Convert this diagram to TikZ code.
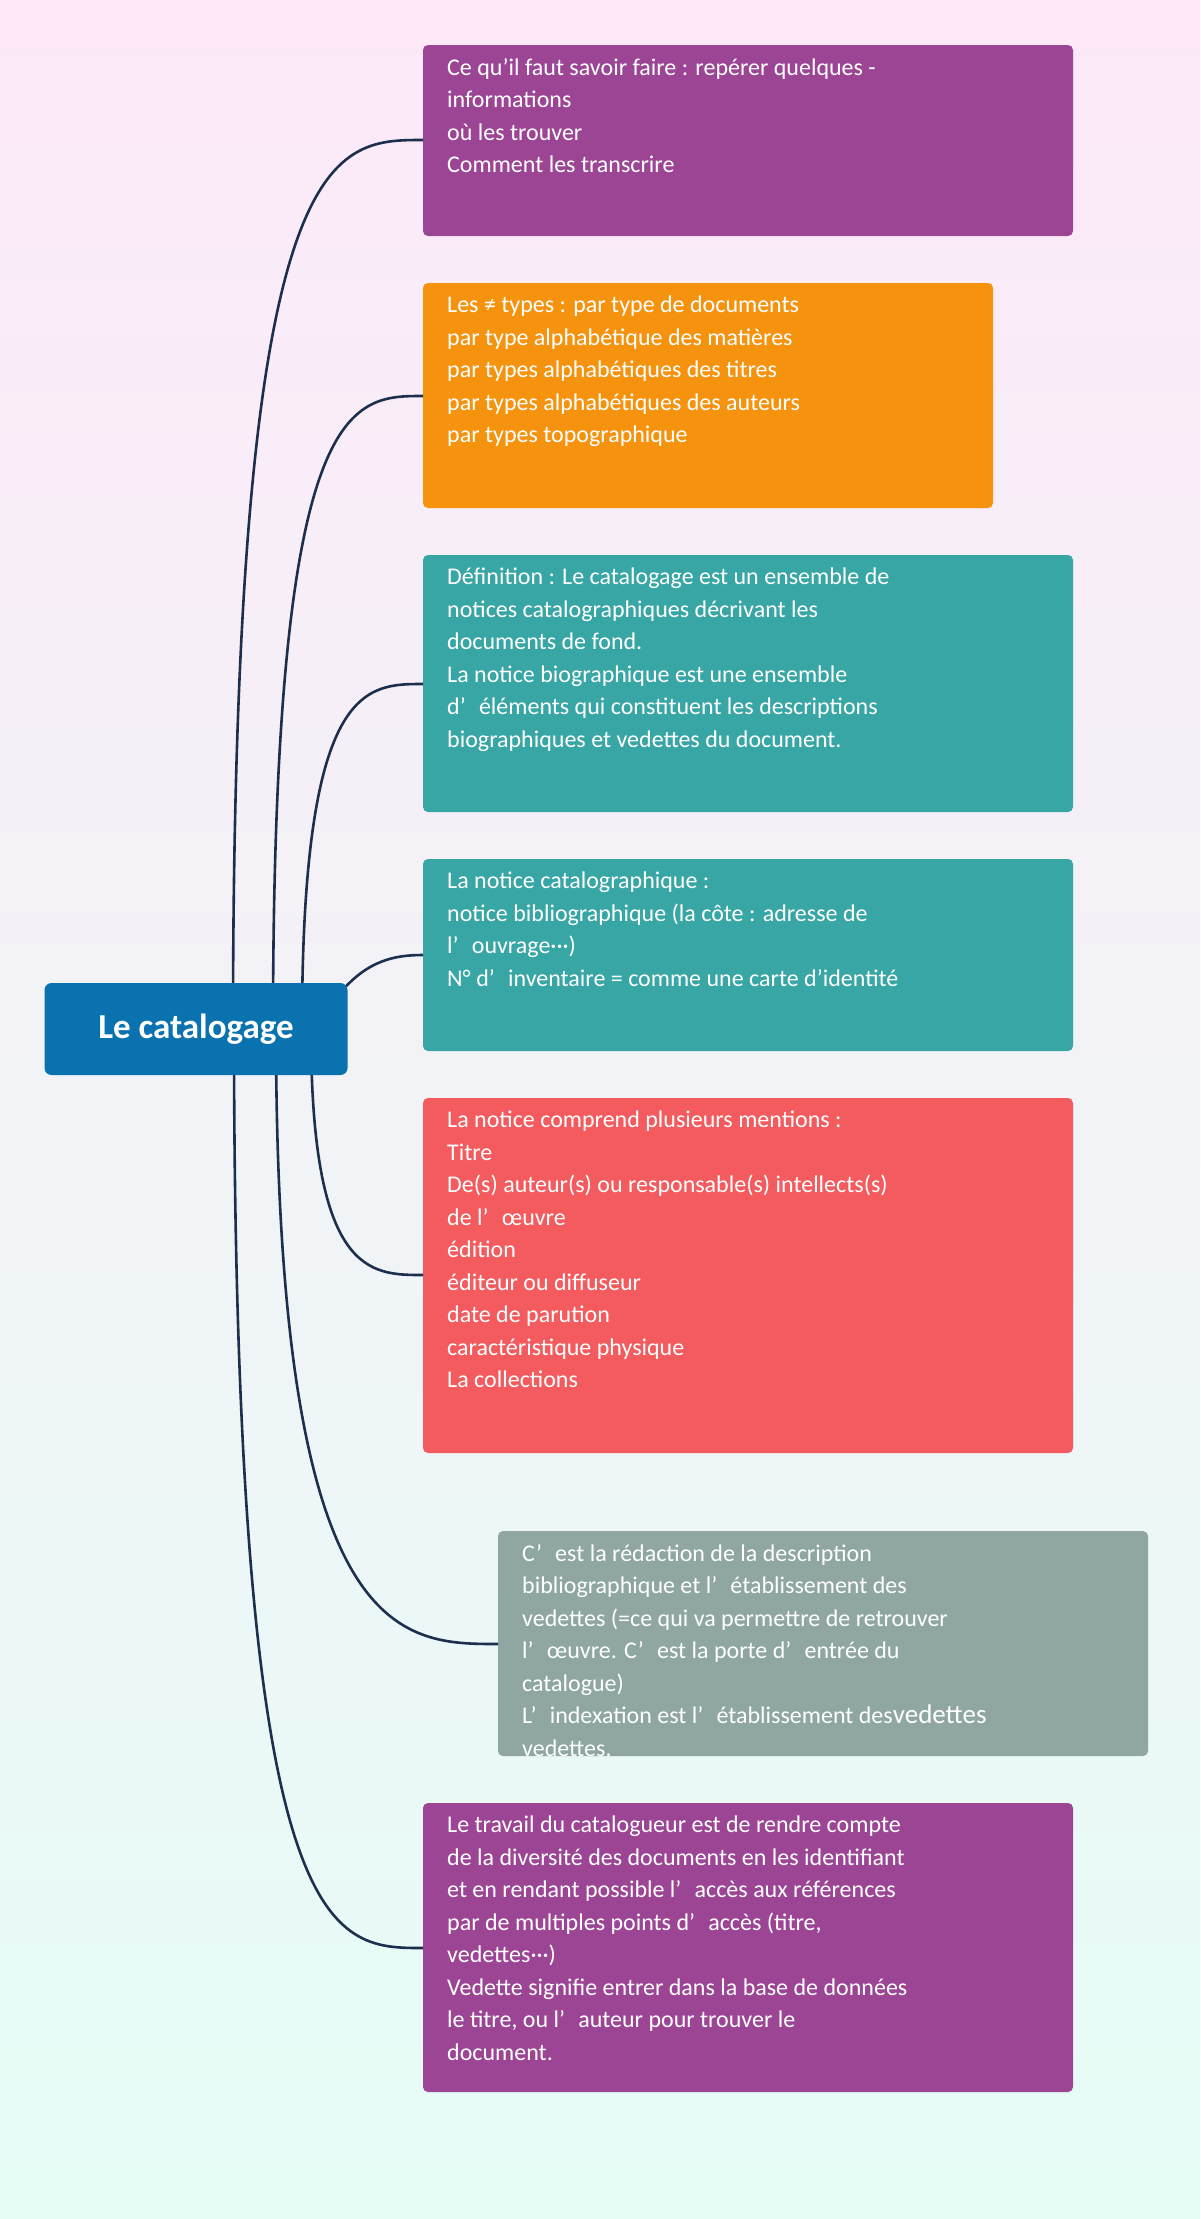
\documentclass[tikz,border=0pt]{standalone}
\usepackage{fontspec}
\setmainfont{Carlito}
\definecolor{cpurple}{HTML}{9C4595}
\definecolor{corange}{HTML}{F5930F}
\definecolor{cteal}{HTML}{37A6A5}
\definecolor{cred}{HTML}{F35B5E}
\definecolor{cgray}{HTML}{8FA6A2}
\definecolor{cblue}{HTML}{0A72AE}
\definecolor{cline}{HTML}{1C2F4F}
\definecolor{bgtop}{HTML}{FDE9F8}
\definecolor{bgbot}{HTML}{E6FDF6}
\newcommand{\ap}{’\hspace{0.55em}}
\tikzset{
  card/.style={rounded corners=5pt},
  txt/.style={anchor=north west,inner sep=0pt,align=left,text=white,
    font=\fontsize{24}{32.5}\selectfont},
  conn/.style={draw=cline,line width=2.6pt}
}
\begin{document}
\begin{tikzpicture}[x=1pt,y=-1pt]
\useasboundingbox (0,0) rectangle (1200,2219);
\shade[top color=bgtop,bottom color=bgbot] (0,0) rectangle (1200,2219);
% boxes
\fill[card,cpurple] (423,45) rectangle (1073,236) coordinate (b1c);
\fill[card,corange] (423,283) rectangle (993,508);
\fill[card,cteal] (423,555) rectangle (1073,812);
\fill[card,cteal] (423,859) rectangle (1073,1051);
\fill[card,cred] (423,1098) rectangle (1073,1453);
\fill[card,cgray] (498,1531) rectangle (1148,1756);
\fill[card,cpurple] (423,1803) rectangle (1073,2092);
\coordinate (w1) at (423,140);
\coordinate (w2) at (423,396);
\coordinate (w3) at (423,684);
\coordinate (w4) at (423,955);
\coordinate (w5) at (423,1275);
\coordinate (w6) at (498,1644);
\coordinate (w7) at (423,1948);
% connectors
\draw[conn] (233,1029) .. controls (233,140) and (330,140) .. (w1);
\draw[conn] (273,1029) .. controls (273,396) and (350,396) .. (w2);
\draw[conn] (302,1029) .. controls (302,684) and (365,684) .. (w3);
\draw[conn] (340,993) .. controls (368,960) and (395,955) .. (w4);
\draw[conn] (311,1029) .. controls (311,1275) and (370,1275) .. (w5);
\draw[conn] (276,1029) .. controls (276,1644) and (400,1644) .. (w6);
\draw[conn] (234,1029) .. controls (234,1948) and (330,1948) .. (w7);
% root
\node[fill=cblue,rounded corners=7pt,minimum width=303pt,minimum height=92pt,
  text=white,font=\fontsize{35}{40}\selectfont\bfseries] (root) at (196,1029) {Le catalogage};
% texts
\node[txt] (t1) at (447,58) {Ce qu'il faut savoir faire : repérer quelques -\\informations\\où les trouver\\Comment les transcrire};
\node[txt] (t2) at (447,296) {Les ≠ types : par type de documents\\par type alphabétique des matières\\par types alphabétiques des titres\\par types alphabétiques des auteurs\\par types topographique};
\node[txt] (t3) at (447,568) {Définition : Le catalogage est un ensemble de\\notices catalographiques décrivant les\\documents de fond.\\La notice biographique est une ensemble\\d\ap éléments qui constituent les descriptions\\biographiques et vedettes du document.};
\node[txt] (t4) at (447,872) {La notice catalographique :\\notice bibliographique (la côte : adresse de\\l\ap ouvrage···)\\N° d\ap inventaire = comme une carte d'identité};
\node[txt] (t5) at (447,1111) {La notice comprend plusieurs mentions :\\Titre\\De(s) auteur(s) ou responsable(s) intellects(s)\\de l\ap œuvre\\édition\\éditeur ou diffuseur\\date de parution\\caractéristique physique\\La collections};
\node[txt] (t6) at (522,1544) {C\ap est la rédaction de la description\\bibliographique et l\ap établissement des\\vedettes (=ce qui va permettre de retrouver\\l\ap œuvre. C\ap est la porte d\ap entrée du\\catalogue)\\L\ap indexation est l\ap établissement des{\fontsize{27}{32.5}\selectfont vedettes}\\vedettes.};
\node[txt] (t7) at (447,1816) {Le travail du catalogueur est de rendre compte\\de la diversité des documents en les identifiant\\et en rendant possible l\ap accès aux références\\par de multiples points d\ap accès (titre,\\vedettes···)\\Vedette signifie entrer dans la base de données\\le titre, ou l\ap auteur pour trouver le\\document.};
\end{tikzpicture}
\end{document}
